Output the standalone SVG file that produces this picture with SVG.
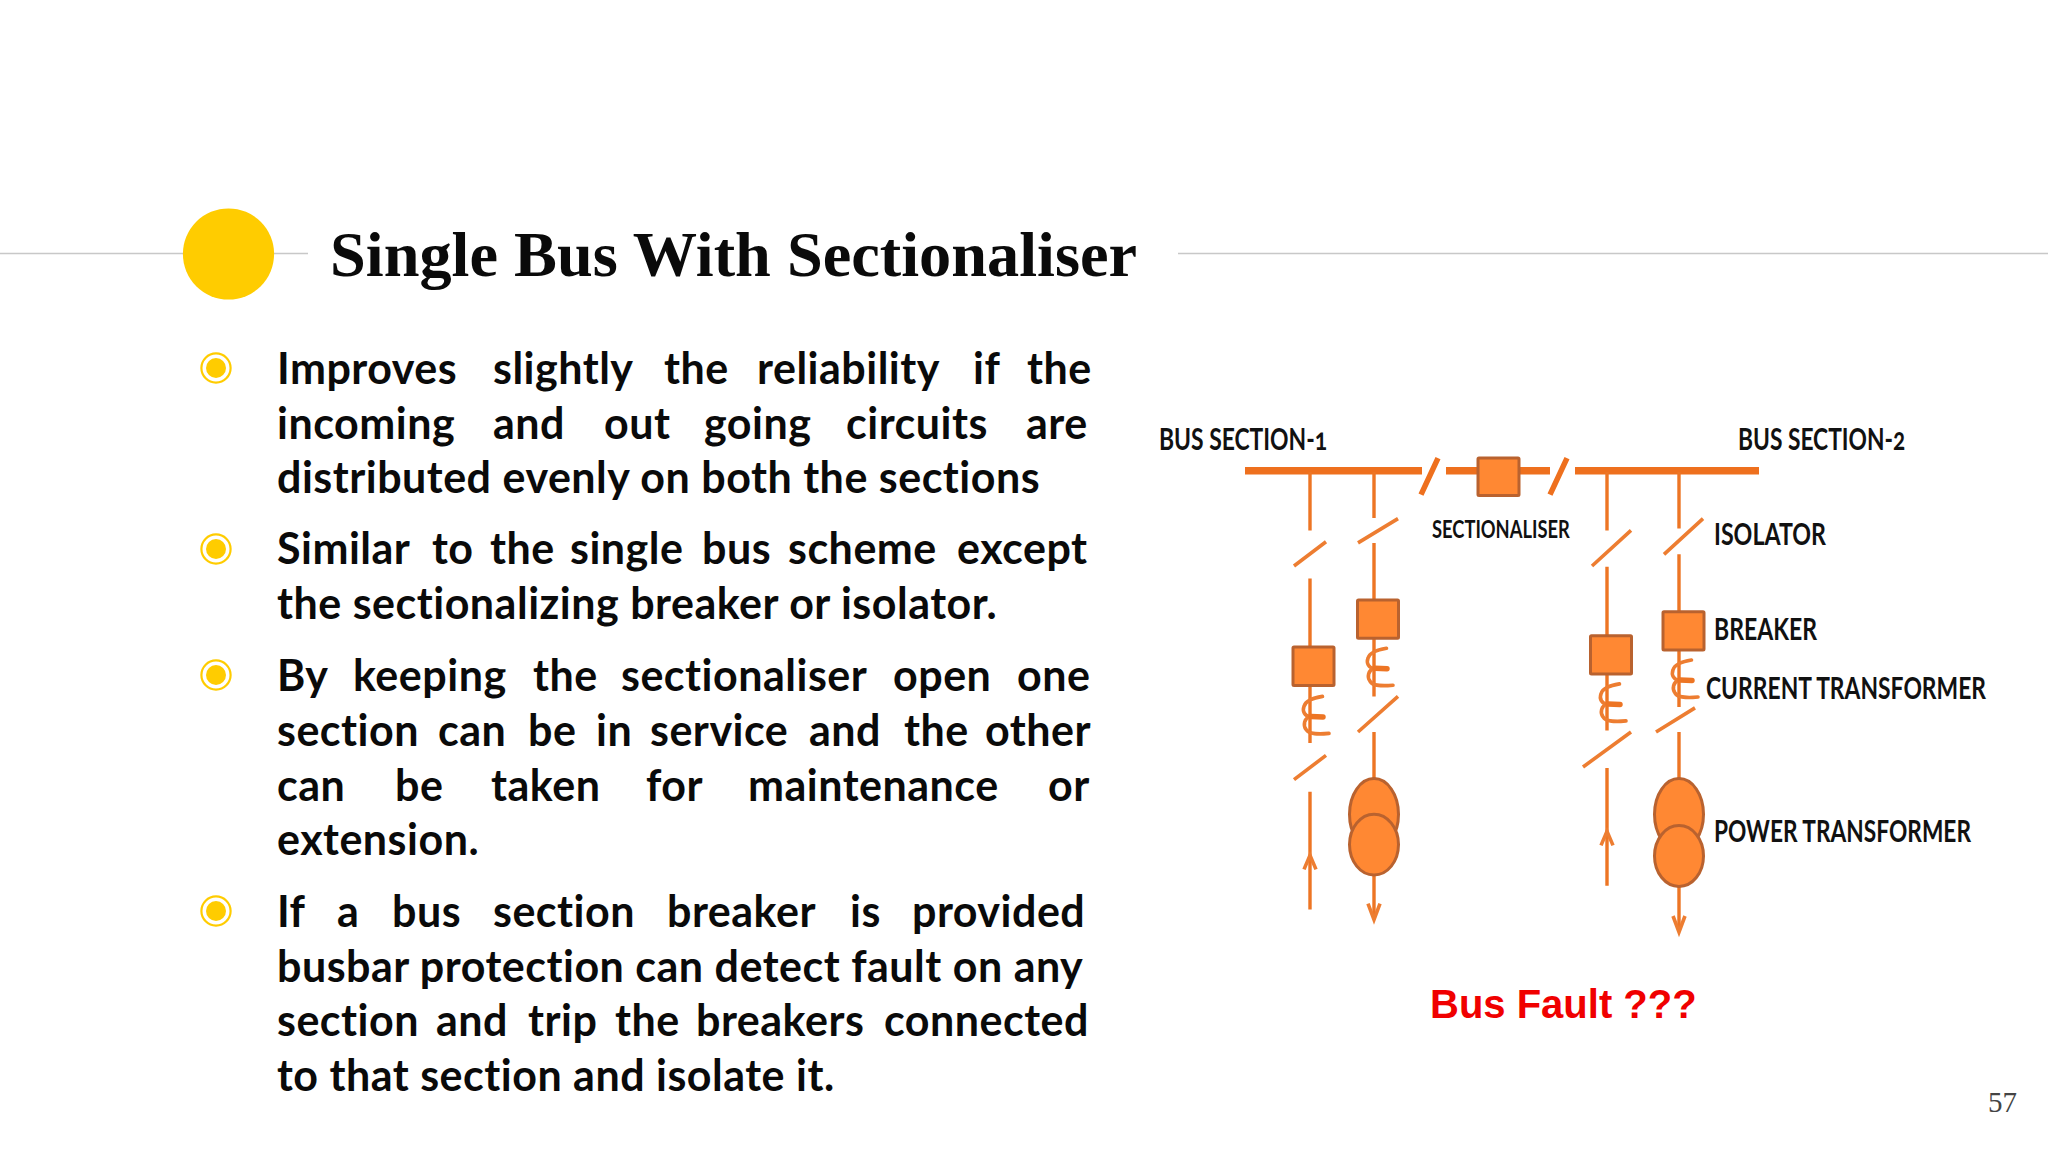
<svg xmlns="http://www.w3.org/2000/svg" xmlns:xlink="http://www.w3.org/1999/xlink" width="2048" height="1152" viewBox="0 0 2048 1152">
<style>
.rule{stroke:#c8c8c8;stroke-width:1.6;fill:none}
.b{font-family:"Lato","Noto Sans",sans-serif;font-size:43px;font-weight:700;letter-spacing:.5px;fill:#0a0a0a}
.t{font-family:"Liberation Serif",serif;font-size:64px;font-weight:700;fill:#0a0a0a}
.l{font-family:"Lato","Noto Sans",sans-serif;font-weight:700;fill:#111;font-variant-numeric:oldstyle-nums}
.wire{stroke:#ED7524;stroke-width:3.4;fill:none}
.bar{stroke:#EE701E;stroke-width:7.5;fill:none}
.sl{stroke:#EE701E;stroke-width:5.5;fill:none}
.iso{stroke:#ED7D31;stroke-width:3.6;fill:none}
.box{fill:#FF8833;stroke:#B9622F;stroke-width:3}
.tf{fill:#FF8833;stroke:#B9622F;stroke-width:3}
.ct{stroke:#ED7D31;stroke-width:3.6;fill:none;stroke-linecap:round}
.ctb{stroke:#ED7524;stroke-width:5.500;fill:none;stroke-linecap:round}
</style>
<defs>
<g id="bullet"><circle r="14.6" fill="none" stroke="#FFCC00" stroke-width="2.2"/><circle r="10" fill="#FFCC00"/></g>
<g id="coil">
<path class="ct" d="M12.500 0C6 1-4 3-6 10C-8 15-5 20 0 20C-6 22-7 29-4 33C-1 38 8 38 19 37"/>
<path class="ctb" d="M1 20L13 20.500"/>
</g>
<path id="up" class="iso" d="M-6 14L0 0L6 14"/>
<path id="down" class="iso" d="M-6 -16L0 0L6 -16"/>
</defs>
<rect width="2048" height="1152" fill="#fff"/>
<g id="frame">
<path class="rule" d="M0 253.500H308M1178 253.500H2048"/>
<circle cx="228.500" cy="254" r="45.600" fill="#FFCC00"/>
</g>
<text id="title" class="t" x="330" y="276" textLength="807" lengthAdjust="spacingAndGlyphs">Single Bus With Sectionaliser</text>
<g id="bullets">
<use xlink:href="#bullet" href="#bullet" x="216" y="368"/>
<use xlink:href="#bullet" href="#bullet" x="216" y="549"/>
<use xlink:href="#bullet" href="#bullet" x="216" y="675"/>
<use xlink:href="#bullet" href="#bullet" x="216" y="911"/>
</g>
<g id="body" class="b" transform="translate(0 1)">
<text y="383"><tspan x="277">Improves</tspan><tspan x="493">slightly</tspan><tspan x="664">the</tspan><tspan x="757">reliability</tspan><tspan x="973">if</tspan><tspan x="1027">the</tspan></text>
<text y="437.500"><tspan x="277">incoming</tspan><tspan x="493">and</tspan><tspan x="604">out</tspan><tspan x="704">going</tspan><tspan x="846">circuits</tspan><tspan x="1026">are</tspan></text>
<text y="492" x="277">distributed evenly on both the sections</text>
<text y="563"><tspan x="277">Similar</tspan><tspan x="432">to</tspan><tspan x="490">the</tspan><tspan x="570">single</tspan><tspan x="702">bus</tspan><tspan x="788">scheme</tspan><tspan x="957">except</tspan></text>
<text y="618" x="277">the sectionalizing breaker or isolator.</text>
<text y="690"><tspan x="277">By</tspan><tspan x="353">keeping</tspan><tspan x="533">the</tspan><tspan x="621">sectionaliser</tspan><tspan x="893">open</tspan><tspan x="1017">one</tspan></text>
<text y="745"><tspan x="277">section</tspan><tspan x="438">can</tspan><tspan x="528">be</tspan><tspan x="596">in</tspan><tspan x="650">service</tspan><tspan x="809">and</tspan><tspan x="904">the</tspan><tspan x="985">other</tspan></text>
<text y="800"><tspan x="277">can</tspan><tspan x="395">be</tspan><tspan x="491">taken</tspan><tspan x="646">for</tspan><tspan x="748">maintenance</tspan><tspan x="1048">or</tspan></text>
<text y="854" x="277">extension.</text>
<text y="926"><tspan x="277">If</tspan><tspan x="337">a</tspan><tspan x="392">bus</tspan><tspan x="493">section</tspan><tspan x="667">breaker</tspan><tspan x="850">is</tspan><tspan x="912">provided</tspan></text>
<text y="980.500" x="277">busbar protection can detect fault on any</text>
<text y="1035"><tspan x="277">section</tspan><tspan x="436">and</tspan><tspan x="528">trip</tspan><tspan x="615">the</tspan><tspan x="696">breakers</tspan><tspan x="884">connected</tspan></text>
<text y="1090" x="277">to that section and isolate it.</text>
</g>
<g id="connectors">
<path class="bar" d="M1245 470.700H1422M1446 470.700H1550M1575 470.700H1759"/>
<path class="sl" d="M1421 494.600L1438 458.200M1550 494.600L1567 458.200"/>
<path class="wire" d="M1310 472V530.400M1310 578.600V647M1310 685V742.900M1310 791.800V909.600"/>
<path class="wire" d="M1374 472V517.900M1374 542.900V600M1374 638V696.400M1374 732V778.600M1374 875V919.600"/>
<path class="wire" d="M1607 472V530.400M1607 566.800V635.700M1607 674V730.400M1607 767.900V885.700"/>
<path class="wire" d="M1679 472V528.600M1679 554.300V611.800M1679 650V707M1679 732V778.600M1679 886V932"/>
<path class="iso" d="M1294 566L1326 541.800M1294 779.600L1326 755.400M1358 542.900L1398 518.600M1358 732L1398 696.400M1592 566L1631 530.400M1583 767L1631 732M1664 554.300L1703 518.600M1656 732L1695 707.900"/>
<use xlink:href="#up" href="#up" x="1310" y="855.400"/>
<use xlink:href="#down" href="#down" x="1374" y="919.600"/>
<use xlink:href="#up" href="#up" x="1607" y="831.400"/>
<use xlink:href="#down" href="#down" x="1679" y="932"/>
</g>
<g id="sectionaliser"><rect class="box" x="1478" y="458" width="41" height="37.500" rx="1"/></g>
<g id="breaker-1"><rect class="box" x="1293" y="647" width="41" height="38.500" rx="1"/></g>
<g id="breaker-2"><rect class="box" x="1357.500" y="600" width="41" height="38.200" rx="1"/></g>
<g id="breaker-3"><rect class="box" x="1590.500" y="635.700" width="41" height="38.200" rx="1"/></g>
<g id="breaker-4"><rect class="box" x="1663" y="611.800" width="41" height="38.200" rx="1"/></g>
<g id="ct-1"><use xlink:href="#coil" href="#coil" x="1310" y="696.400"/></g>
<g id="ct-2"><use xlink:href="#coil" href="#coil" x="1374" y="648.200"/></g>
<g id="ct-3"><use xlink:href="#coil" href="#coil" x="1607" y="683.900"/></g>
<g id="ct-4"><use xlink:href="#coil" href="#coil" x="1679" y="660"/></g>
<g id="transformer-1"><ellipse class="tf" cx="1374" cy="814.300" rx="24.500" ry="35.700"/><ellipse class="tf" cx="1374" cy="844.600" rx="24.500" ry="30.400"/></g>
<g id="transformer-2"><ellipse class="tf" cx="1679" cy="814.300" rx="24.500" ry="35.700"/><ellipse class="tf" cx="1679" cy="856" rx="24.500" ry="30.400"/></g>
<g id="labels" class="l">
<text transform="matrix(.82 0 0 1 1159 450)" font-size="31" textLength="205" lengthAdjust="spacingAndGlyphs">BUS SECTION-1</text>
<text transform="matrix(.82 0 0 1 1738 450)" font-size="31" textLength="204" lengthAdjust="spacingAndGlyphs">BUS SECTION-2</text>
<text transform="matrix(.82 0 0 1 1432 537.500)" font-size="24" textLength="168" lengthAdjust="spacingAndGlyphs">SECTIONALISER</text>
<text transform="matrix(.82 0 0 1 1714 544.600)" font-size="31" textLength="136.600" lengthAdjust="spacingAndGlyphs">ISOLATOR</text>
<text transform="matrix(.82 0 0 1 1714 640)" font-size="31" textLength="125.600" lengthAdjust="spacingAndGlyphs">BREAKER</text>
<text transform="matrix(.82 0 0 1 1706 699)" font-size="31" textLength="341.500" lengthAdjust="spacingAndGlyphs">CURRENT TRANSFORMER</text>
<text transform="matrix(.82 0 0 1 1714 842)" font-size="31" textLength="313.400" lengthAdjust="spacingAndGlyphs">POWER TRANSFORMER</text>
</g>
<text id="fault" x="1430" y="1018" font-family="'Liberation Sans',sans-serif" font-weight="700" font-size="40" fill="#F00000">Bus Fault ???</text>
<text id="page" x="1988" y="1112" font-family="'Liberation Serif',serif" font-size="29" fill="#444">57</text>
</svg>
